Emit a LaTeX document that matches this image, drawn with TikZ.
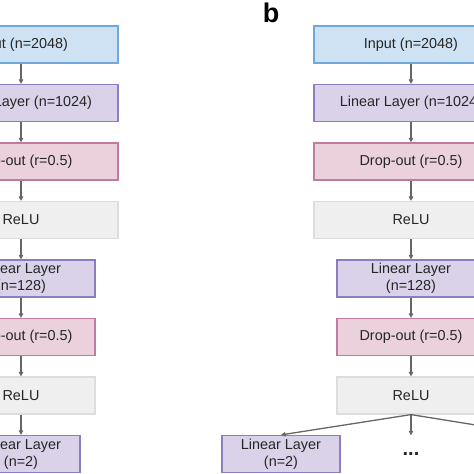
\documentclass[tikz,border=0pt]{standalone}
\usepackage{fontspec}
\setmainfont{Liberation Sans}
\usepackage{tikz}
\usetikzlibrary{arrows.meta,positioning}
\definecolor{inFill}{HTML}{CFE2F3}
\definecolor{inLine}{HTML}{6FA8DC}
\definecolor{linFill}{HTML}{D9D2E9}
\definecolor{linLine}{HTML}{8E7CC3}
\definecolor{dropFill}{HTML}{EAD1DC}
\definecolor{dropLine}{HTML}{C27BA0}
\definecolor{reluFill}{HTML}{EFEFEF}
\definecolor{reluLine}{HTML}{DDDDDD}
\definecolor{arrowGray}{HTML}{666666}

\begin{document}
\begin{tikzpicture}[x=1pt, y=-1pt,
    box/.style={draw, line width=1.2pt, minimum height=37pt, inner sep=0pt, align=center,
      text=black!85, font=\fontsize{14.4}{17}\selectfont},
    inbox/.style={box, fill=inFill, draw=inLine},
    linbox/.style={box, fill=linFill, draw=linLine},
    dropbox/.style={box, fill=dropFill, draw=dropLine},
    relubox/.style={box, fill=reluFill, draw=reluLine},
    wide/.style={minimum width=194pt},
    mid/.style={minimum width=148pt},
    narrow/.style={minimum width=118pt},
    flow/.style={draw=arrowGray, line width=1.3pt, -{Triangle[length=4.5pt, width=4.5pt]}}]
    \useasboundingbox (0,0) rectangle (474,474);
    \clip (0,0) rectangle (474,474);
    % the two stacks share their upper part
    \foreach \c/\x in {a/21, b/411} {
      \node[inbox, wide] (\c-in) at (\x,44.5) {Input (n=2048)};
      \node[linbox, wide] (\c-lin1) at (\x,103) {Linear Layer (n=1024)};
      \node[dropbox, wide] (\c-drop1) at (\x,161.5) {Drop-out (r=0.5)};
      \node[relubox, wide] (\c-relu1) at (\x,220) {ReLU};
      \node[linbox, mid] (\c-lin2) at (\x,278.5) {Linear Layer\\(n=128)};
      \node[dropbox, mid] (\c-drop2) at (\x,337) {Drop-out (r=0.5)};
      \node[relubox, mid] (\c-relu2) at (\x,395.5) {ReLU};
      \draw[flow] (\c-in) -- (\c-lin1);
      \draw[flow] (\c-lin1) -- (\c-drop1);
      \draw[flow] (\c-drop1) -- (\c-relu1);
      \draw[flow] (\c-relu1) -- (\c-lin2);
      \draw[flow] (\c-lin2) -- (\c-drop2);
      \draw[flow] (\c-drop2) -- (\c-relu2);
    }
    % panel a: one head
    \node[linbox, narrow] (a-out) at (21,454) {Linear Layer\\(n=2)};
    \draw[flow] (a-relu2) -- (a-out);
    % panel b: several heads
    \node[font=\fontsize{27}{27}\selectfont\bfseries] (b-label) at (271,13) {b};
    \node[linbox, narrow] (b-out) at (281,454) {Linear Layer\\(n=2)};
    \node[minimum height=37pt, inner sep=0pt, text=black!85, font=\fontsize{20}{20}\selectfont\bfseries] (b-more) at (411,454) {...};
    \coordinate (b-right) at (541,435.5);
    \draw[flow] (b-relu2.south) -- (b-out.north);
    \draw[flow] (b-relu2.south) -- (b-more.north);
    \draw[flow] (b-relu2.south) -- (b-right);
\end{tikzpicture}
\end{document}
